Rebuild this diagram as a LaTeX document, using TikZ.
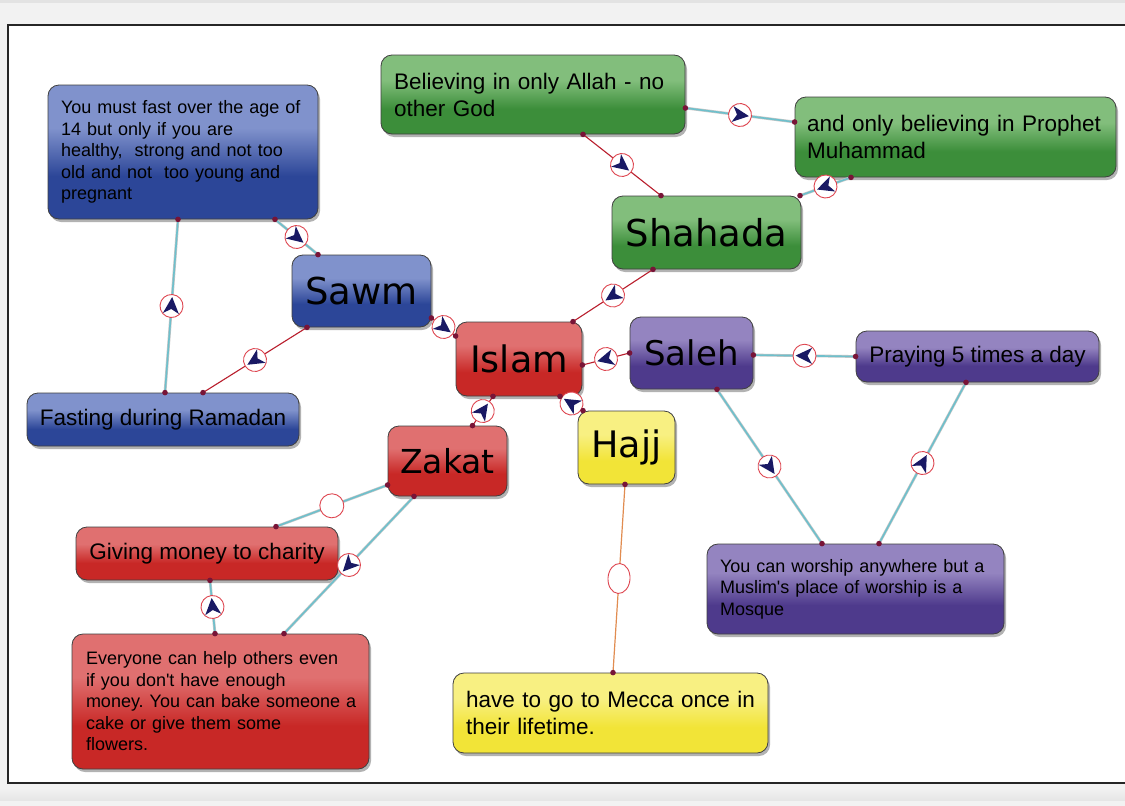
\documentclass[tikz,border=0pt]{standalone}
\usepackage{fontspec}
\usetikzlibrary{shadows,decorations.markings,calc}
\newfontfamily\lib{Liberation Sans}
\newfontfamily\dvs{DejaVu Sans}
\frenchspacing
\definecolor{blT}{RGB}{128,146,204}
\definecolor{blB}{RGB}{44,70,152}
\definecolor{grT}{RGB}{130,190,124}
\definecolor{grB}{RGB}{60,142,58}
\definecolor{rdT}{RGB}{224,112,112}
\definecolor{rdB}{RGB}{200,40,38}
\definecolor{puT}{RGB}{148,132,192}
\definecolor{puB}{RGB}{78,58,140}
\definecolor{yeT}{RGB}{248,240,130}
\definecolor{yeB}{RGB}{242,228,55}
\definecolor{bggray}{RGB}{242,242,242}
\definecolor{tealc}{RGB}{110,192,204}
\definecolor{redc}{RGB}{185,30,45}
\definecolor{orc}{RGB}{225,140,80}
\definecolor{dotc}{RGB}{120,20,55}
\definecolor{markc}{RGB}{222,70,80}
\definecolor{navyc}{RGB}{25,25,100}
\pgfdeclareverticalshading{blS}{100bp}{color(0bp)=(blB); color(25bp)=(blB); color(41bp)=(blB); color(59bp)=(blT); color(75bp)=(blT); color(100bp)=(blT)}
\pgfdeclareverticalshading{grS}{100bp}{color(0bp)=(grB); color(25bp)=(grB); color(41bp)=(grB); color(59bp)=(grT); color(75bp)=(grT); color(100bp)=(grT)}
\pgfdeclareverticalshading{rdS}{100bp}{color(0bp)=(rdB); color(25bp)=(rdB); color(41bp)=(rdB); color(59bp)=(rdT); color(75bp)=(rdT); color(100bp)=(rdT)}
\pgfdeclareverticalshading{puS}{100bp}{color(0bp)=(puB); color(25bp)=(puB); color(41bp)=(puB); color(59bp)=(puT); color(75bp)=(puT); color(100bp)=(puT)}
\pgfdeclareverticalshading{yeS}{100bp}{color(0bp)=(yeB); color(25bp)=(yeB); color(41bp)=(yeB); color(59bp)=(yeT); color(75bp)=(yeT); color(100bp)=(yeT)}
\newcommand\mylink[4]{\draw[#1,#2] #3 -- #4; \fill[dotc] #3 circle (2.8pt); \fill[dotc] #4 circle (2.8pt);}
\begin{document}
\begin{tikzpicture}[x=1pt,y=-1pt,
  box/.style={draw=black!75, line width=0.8pt, rounded corners=11pt, inner sep=0pt, text=black,
    drop shadow={shadow xshift=2pt, shadow yshift=-3pt, opacity=0.3, fill=black}},
  det/.style={box, align=left, font=\lib\fontsize{18}{21.5}\selectfont},
  dettwo/.style={box, align=left, font=\lib\fontsize{22.5}{27}\selectfont},
  mainlbl/.style={box, align=center, font=\dvs\fontsize{37}{44}\selectfont},
  cy/.style={draw=tealc, line width=1.6pt, preaction={draw=gray!45, line width=2.8pt}},
  rd/.style={draw=redc, line width=1.1pt},
  orl/.style={draw=orc, line width=1.2pt},
  mk/.style={postaction={decorate, decoration={markings, mark=at position 0.5 with {
     \draw[markc, fill=white, line width=0.9pt] (0,0) circle (11.5pt);
     \fill[navyc] (9pt,0pt) -- (-7.5pt,8pt) -- (-3pt,0pt) -- (-7.5pt,-8pt) -- cycle;}}}},
  mko/.style={postaction={decorate, decoration={markings, mark=at position 0.5 with {
     \draw[markc, fill=white, line width=0.9pt] (0,0) circle (12pt);}}}},
  mke/.style={postaction={decorate, decoration={markings, mark=at position 0.5 with {
     \draw[markc, fill=white, line width=0.9pt] (0,0) ellipse (15pt and 11pt);}}}}
]
\useasboundingbox (0,0) rectangle (1125,806);
% window background
\fill[bggray] (0,0) rectangle (1125,806);
\fill[gray!22] (0,0) rectangle (1125,3);
\shade[top color=gray!10, bottom color=gray!20] (0,788) rectangle (1125,800);
\fill[white] (8,25) rectangle (1125,783);
\draw[black!85, line width=1.6pt] (1127,25) -- (8,25) -- (8,783) -- (1127,783);

% nodes
\node[det, shading=blS, text width=244pt, inner xsep=13pt, minimum height=134pt] (det1) at (183,152)
  {You must fast over the age of\\14 but only if you are\\healthy,~ strong and not too\\old and not~ too young and\\pregnant};
\node[mainlbl, shading=blS, minimum width=139pt, minimum height=72pt] (sawm) at (361.5,291) {Sawm};
\node[dettwo, shading=blS, align=center, minimum width=272pt, minimum height=53pt] (fast) at (163,419.5) {Fasting during Ramadan};

\node[dettwo, shading=grS, text width=278pt, inner xsep=13pt, minimum height=79pt] (allah) at (533,94.5)
  {Believing in only Allah - no\\other God};
\node[dettwo, shading=grS, text width=297pt, inner xsep=12pt, minimum height=80pt] (prophet) at (955.5,137)
  {\mbox{and only believing in Prophet}\\Muhammad};
\node[mainlbl, shading=grS, minimum width=189pt, minimum height=73pt] (shahada) at (706.5,232.5) {Shahada};

\node[mainlbl, shading=rdS, minimum width=126pt, minimum height=74pt, font=\dvs\fontsize{36.5}{44}\selectfont] (islam) at (519,359) {Islam};
\node[mainlbl, shading=puS, minimum width=123pt, minimum height=72pt, font=\dvs\fontsize{34}{40}\selectfont] (saleh) at (691.5,353) {Saleh};
\node[dettwo, shading=puS, align=center, minimum width=243pt, minimum height=51pt] (pray) at (977.5,356.5) {Praying 5 times a day};
\node[mainlbl, shading=yeS, minimum width=97pt, minimum height=73pt, font=\dvs\fontsize{36.5}{44}\selectfont] (hajj) at (626.5,447.5) {Hajj};
\node[mainlbl, shading=rdS, minimum width=119pt, minimum height=70pt, font=\dvs\fontsize{33}{40}\selectfont] (zakat) at (447.5,461) {Zakat};
\node[dettwo, shading=rdS, align=center, minimum width=262pt, minimum height=53pt] (give) at (207,553.5) {Giving money to charity};
\node[det, shading=rdS, text width=269pt, inner xsep=14pt, minimum height=135pt] (every) at (220.5,701.5)
  {Everyone can help others even\\if you don't have enough\\\mbox{money. You can bake someone a}\\cake or give them some\\flowers.};
\node[det, shading=puS, text width=271pt, inner xsep=13pt, minimum height=90pt] (worship) at (855.5,589)
  {You can worship anywhere but a\\Muslim's place of worship is a\\Mosque};
\node[dettwo, shading=yeS, text width=289pt, inner xsep=13pt, minimum height=80pt] (mecca) at (610.5,713)
  {have to go to Mecca once in\\their lifetime.};

% connectors
\mylink{cy}{mk}{([xshift=2pt]fast.north)}{([xshift=-5pt]det1.south)}
\mylink{cy}{mk}{([xshift=92pt]det1.south)}{([xshift=-43.5pt]sawm.north)}
\mylink{rd}{mk}{([xshift=-54.5pt]sawm.south)}{([xshift=40pt]fast.north)}
\mylink{rd}{mk}{([yshift=-27pt]sawm.east)}{([yshift=23pt]islam.west)}
\mylink{rd}{mk}{([xshift=50pt]allah.south)}{([xshift=-45.5pt]shahada.north)}
\mylink{cy}{mk}{([yshift=-13.5pt]allah.east)}{([yshift=15pt]prophet.west)}
\mylink{cy}{mk}{([xshift=-104.5pt]prophet.south)}{([xshift=93.5pt]shahada.north)}
\mylink{rd}{mk}{([xshift=-53.5pt]shahada.south)}{([xshift=54pt]islam.north)}
\mylink{rd}{mk}{(saleh.west)}{([yshift=-6pt]islam.east)}
\mylink{cy}{mk}{(pray.west)}{([yshift=-2pt]saleh.east)}
\mylink{cy}{mk}{([xshift=25.5pt]saleh.south)}{([xshift=-33.5pt]worship.north)}
\mylink{cy}{mk}{([xshift=23.5pt]worship.north)}{([xshift=-11.5pt]pray.south)}
\mylink{rd}{mk}{([xshift=-43.5pt]hajj.north)}{([xshift=41pt]islam.south)}
\mylink{rd}{mk}{([xshift=25pt]zakat.north)}{([xshift=-26pt]islam.south)}
\mylink{cy}{mko}{([yshift=-24pt]zakat.west)}{([xshift=69pt]give.north)}
\mylink{cy}{mk}{([xshift=-33.5pt]zakat.south)}{([xshift=63.5pt]every.north)}
\mylink{cy}{mk}{([xshift=-5.5pt]every.north)}{([xshift=3pt]give.south)}
\mylink{orl}{mke}{([xshift=-1.5pt]hajj.south)}{([xshift=2.5pt]mecca.north)}
\end{tikzpicture}
\end{document}
